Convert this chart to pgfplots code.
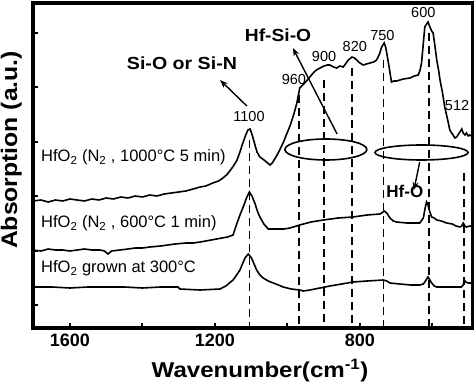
\documentclass[border=0pt]{standalone}
\usepackage{fontspec}
\setmainfont{Liberation Sans}
\usepackage{pgfplots}
\pgfplotsset{compat=1.18}
\usetikzlibrary{arrows.meta}
\newcommand{\fs}[1]{\fontsize{#1}{#1}\selectfont}
\begin{document}
\begin{tikzpicture}
\path[use as bounding box] (0,0) rectangle (474pt,388pt);
\begin{axis}[
  at={(33pt,60pt)}, anchor=south west,
  scale only axis, width=440pt, height=325pt,
  x dir=reverse, xmin=488, xmax=1702, ymin=0, ymax=325,
  axis line style={line width=3.2pt},
  xtick={1600,1200,800}, xticklabels={1600,1200,800},
  minor xtick={1400,1000,600},
  ytick={23,77,132,186,241,295}, yticklabels={},
  xtick pos=left, ytick pos=left,
  tick align=inside,
  major tick length=5pt, minor tick length=5pt,
  tick style={line width=2pt, black},
  xticklabel style={font=\fs{18}\bfseries, anchor=base, yshift=-19pt},
  xlabel={\scalebox{1.12}[1]{Wavenumber(cm\textsuperscript{-1})}},
  ylabel={\scalebox{1.1}[1]{Absorption (a.u.)}},
  xlabel style={at={(axis description cs:0.516,-0.151)}, anchor=base, font=\fs{21.5}\bfseries},
  ylabel style={at={(axis description cs:-0.036,0.548)}, anchor=base, font=\fs{22.5}\bfseries},
  clip=false,
]
% spectra
\addplot[black, line width=1.6pt] coordinates {
(1702,127) (1680,128) (1660,126) (1640,128) (1620,127) (1600,129) (1580,128) (1560,127) (1540,129) (1520,128) (1500,130) (1480,129) (1460,131) (1440,130) (1420,132) (1400,131) (1380,133) (1360,132) (1340,134) (1320,135) (1300,136) (1280,137) (1260,139) (1241,141) (1225,142) (1206,145) (1190,147) (1178,150) (1168,153) (1159,157) (1149,162) (1139,168) (1131,176) (1123,185) (1115,193) (1109,198) (1103,199) (1098,194) (1091,185) (1084,176) (1076,171) (1068,169) (1058,166) (1048,163) (1042,165) (1035,169) (1024,176) (1012,185) (1002,194) (993,202) (983,213) (974,225) (966,240) (955,244) (945,248) (938,251) (929,255) (920,258) (910,260) (899,262) (890,263) (883,263) (873,261) (864,260) (855,262) (846,261) (838,265) (832,268) (822,271) (815,270) (809,268) (800,265) (791,263) (782,264) (772,265) (762,266) (754,268) (746,274) (740,281) (733,285) (729,281) (726,275) (719,260) (713,246) (706,247) (699,247) (680,249) (662,250) (650,252) (639,253) (634,258) (630,265) (625,285) (621,301) (616,304) (612,306) (607,301) (602,297) (598,295) (593,282) (588,268) (583,258) (579,248) (572,235) (566,221) (559,210) (552,198) (547,195) (543,193) (538,190) (533,191) (528,194) (524,196) (519,199) (515,195) (510,193) (506,195) (501,192) (497,193) (492,192) (488,191)
};
\addplot[black, line width=1.6pt] coordinates {
(1702,78) (1680,77) (1660,79) (1640,78) (1620,78) (1600,77) (1580,78) (1560,79) (1540,78) (1517,78) (1505,77) (1495,74) (1485,77) (1462,78) (1440,79) (1420,80) (1400,80) (1379,81) (1350,82) (1330,83) (1310,84) (1280,85) (1260,85) (1241,86) (1210,88) (1181,90) (1165,91) (1150,93) (1140,104) (1130,114) (1122,121) (1113,130) (1105,136) (1098,132) (1090,125) (1083,117) (1076,111) (1065,104) (1053,99) (1030,99) (1010,99) (993,100) (966,103) (935,106) (901,108) (860,110) (819,111) (780,113) (745,114) (740,115) (733,117) (726,115) (717,110) (708,107) (699,106) (670,105) (650,105) (635,105) (625,110) (620,120) (616,126) (612,123) (607,116) (602,111) (595,110) (588,108) (575,107) (561,105) (545,104) (535,102) (524,101) (519,102) (515,105) (510,102) (506,101) (497,102) (488,101)
};
\addplot[black, line width=1.6pt] coordinates {
(1702,41) (1650,41) (1600,40) (1550,41) (1517,41) (1450,41) (1400,40) (1350,41) (1302,41) (1297,39) (1241,38) (1186,39) (1170,42) (1150,48) (1140,53) (1131,58) (1123,65) (1117,70) (1108,74) (1099,70) (1092,64) (1085,58) (1076,53) (1067,50) (1053,47) (1039,45) (1025,43) (1012,41) (990,39) (966,38) (956,37) (938,38) (910,40) (883,42) (850,44) (819,46) (780,47) (736,48) (726,47) (717,45) (690,44) (660,43) (635,43) (625,44) (621,46) (612,51) (607,48) (602,45) (595,42) (588,41) (560,41) (530,41) (520,41) (515,43) (512,48) (508,46) (501,45) (488,45)
};
% dashed guide lines
\foreach \xx/\yy in {1105/188, 968/233, 899/248, 822/260, 735/268, 610/295, 513/155}{
  \edef\tmp{\noexpand\draw[black, line width=1.5pt, dash pattern=on 8pt off 5pt] (axis cs:\xx,\yy) -- (axis cs:\xx,0);}\tmp
}
% ellipses
\draw[black, line width=1.6pt] (axis cs:894,178.5) ellipse [x radius=41pt, y radius=10.5pt];
\draw[black, line width=1.6pt] (axis cs:630,175.5) ellipse [x radius=46.5pt, y radius=7.5pt];
% arrows
\draw[black, line width=1.4pt, -{Stealth[length=8pt,width=6pt]}] (axis cs:1112,222) -- (axis cs:1186,248);
\draw[black, line width=1.4pt, -{Stealth[length=8pt,width=6pt]}] (axis cs:863,194) -- (axis cs:985,280);
\draw[black, line width=1.4pt, -{Stealth[length=8pt,width=6pt]}] (axis cs:635,166) -- (axis cs:651,138);
% annotations
\node[font=\fs{17.5}\bfseries] at (axis cs:1291,265) {\scalebox{1.12}[1]{Si-O or Si-N}};
\node[font=\fs{17.5}\bfseries] at (axis cs:1026,293) {\scalebox{1.1}[1]{Hf-Si-O}};
\node[font=\fs{17}\bfseries] at (axis cs:676,136.5) {Hf-O};
\node[font=\fs{14.5}] at (axis cs:1106,211) {1100};
\node[font=\fs{14.5}] at (axis cs:982,248) {960};
\node[font=\fs{14.5}] at (axis cs:899,271) {900};
\node[font=\fs{14.5}] at (axis cs:814,281) {820};
\node[font=\fs{14.5}] at (axis cs:738,292) {750};
\node[font=\fs{14.5}] at (axis cs:625,315) {600};
\node[font=\fs{14.5}] at (axis cs:532,222) {512};
\node[font=\fs{16.5}, anchor=base west, inner sep=0pt] at (axis cs:1680,166) {HfO\textsubscript{2} (N\textsubscript{2} , 1000°C 5 min)};
\node[font=\fs{16.5}, anchor=base west, inner sep=0pt] at (axis cs:1680,100) {HfO\textsubscript{2} (N\textsubscript{2} , 600°C 1 min)};
\node[font=\fs{16.5}, anchor=base west, inner sep=0pt] at (axis cs:1680,55) {HfO\textsubscript{2} grown at 300°C};
\end{axis}
\end{tikzpicture}
\end{document}
